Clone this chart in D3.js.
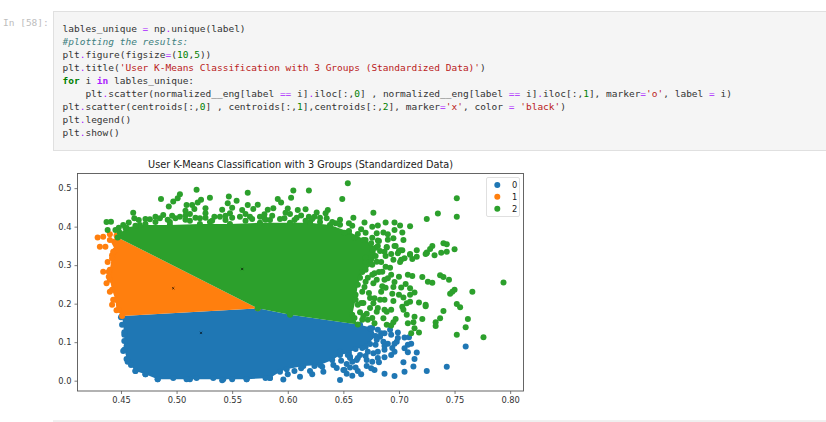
<!DOCTYPE html>
<html><head><meta charset="utf-8">
<script src="https://cdn.jsdelivr.net/npm/d3@7"></script>
<style>html,body{margin:0;padding:0;background:#fff;overflow:hidden}svg{display:block}</style>
</head><body><svg id="c" width="826" height="422"></svg>
<script>
const chartTitle = "User K-Means Classification with 3 Groups (Standardized Data)";
const groupLabels = ["0","1","2"];
const groupColors = ["#1f77b4","#ff7f0e","#2ca02c"];
const xTicks = [0.45,0.50,0.55,0.60,0.65,0.70,0.75,0.80];
const yTicks = [0.0,0.1,0.2,0.3,0.4,0.5];
const centroids = [[0.522,0.124],[0.497,0.240],[0.559,0.290]];

// dense interior of each group, as outlines in data units
const massBlue = [[.451,.168],[.573,.188],[.602,.171],[.665,.145],[.676,.137],[.679,.116],[.670,.088],[.661,.082],[.655,.072],[.647,.067],[.640,.054],[.629,.041],[.614,.038],[.599,.030],[.593,.023],[.584,.007],[.563,.004],[.542,.004],[.512,.004],[.483,.004],[.472,.017],[.463,.025],[.456,.049],[.453,.080],[.453,.119]];
const massOrange = [[.447,.372],[.573,.188],[.451,.168],[.446,.183],[.445,.210],[.442,.236],[.440,.262],[.440,.288],[.442,.326],[.445,.339],[.440,.365]];
const massGreen = [[.447,.372],[.454,.397],[.467,.404],[.494,.404],[.521,.407],[.548,.407],[.575,.410],[.602,.410],[.620,.410],[.638,.404],[.655,.387],[.670,.365],[.679,.345],[.679,.324],[.676,.301],[.667,.282],[.663,.249],[.661,.210],[.658,.171],[.663,.146],[.602,.171],[.573,.188]];

const pointsBlue = [[.760,.089],[.743,.036],[.725,.025],[.713,.037],[.705,.023],[.696,.012],[.687,.018],[.704,.048],[.714,.056],[.716,.073],[.711,.096],[.708,.093],[.705,.112],[.709,.113],[.699,.125],[.698,.101],[.696,.096],[.690,.096],[.705,.084],[.708,.074],[.696,.075],[.693,.067],[.687,.080],[.687,.061],[.682,.048],[.678,.028],[.675,.032],[.671,.054],[.671,.038],[.666,.017],[.663,.025],[.661,.034],[.656,.034],[.658,.013],[.651,.028],[.653,.018],[.647,.002],[.684,.123],[.687,.123],[.674,.136],[.683,.114],[.677,.071],[.681,.075],[.665,.067],[.656,.062],[.648,.052],[.641,.041],[.662,.054],[.596,.003],[.600,.017],[.611,.010],[.622,.017],[.632,.023],[.650,.028],[.654,.067],[.612,.032],[.679,.093],[.686,.101],[.693,.119],[.670,.064],
[.450,.165],[.451,.145],[.453,.126],[.453,.103],[.455,.090],[.452,.077],[.455,.056],[.459,.041],[.463,.025],[.472,.017],[.483,.004],[.497,.007],[.509,.004],[.518,.007],[.533,.007],[.541,.001],[.550,.004],[.563,.004],[.580,.007],[.584,.007],
[.647,.075],[.656,.059],[.667,.085],[.674,.095],[.680,.106],[.687,.090],[.681,.059],[.672,.075],[.663,.059],[.653,.043],[.644,.033],[.631,.036],[.620,.025],[.606,.025],[.658,.049],[.676,.049],[.694,.085],[.699,.111],[.692,.132],[.681,.132],[.624,.038]];

const pointsOrange = [[.429,.372],[.434,.374],[.440,.380],[.446,.377],[.431,.348],[.436,.348],[.443,.335],[.442,.318],[.438,.308],[.434,.283],[.439,.283],[.439,.270],[.437,.253],[.440,.231],[.443,.210],[.442,.197],[.448,.184]];

const pointsGreen = [[.518,.496],[.486,.472],[.503,.484],[.501,.474],[.497,.465],[.493,.452],[.530,.475],[.522,.470],[.519,.463],[.509,.456],[.514,.456],[.516,.446],[.526,.448],[.526,.435],[.508,.441],[.461,.436],[.547,.478],[.564,.488],[.554,.467],[.546,.461],[.550,.449],[.541,.444],[.564,.456],[.573,.457],[.569,.446],[.548,.435],[.534,.426],[.559,.443],[.488,.430],[.485,.422],[.476,.419],[.466,.417],[.462,.422],[.499,.422],[.503,.426],[.508,.429],[.517,.423],[.521,.422],[.539,.426],[.557,.426],[.568,.420],[.575,.426],[.437,.412],[.441,.413],[.438,.391],[.457,.411],[.452,.404],[.448,.397],[.445,.391],
[.654,.513],[.619,.494],[.605,.494],[.649,.472],[.603,.475],[.591,.472],[.594,.463],[.587,.448],[.582,.444],[.600,.447],[.598,.436],[.609,.443],[.616,.445],[.579,.432],[.579,.422],[.636,.443],[.634,.435],[.626,.437],[.624,.426],[.619,.426],[.612,.429],[.677,.436],[.659,.423],[.725,.420],[.647,.418],[.635,.422],[.643,.409],[.655,.409],[.669,.411],[.688,.411],[.696,.411],[.681,.403],[.701,.403],[.710,.401],[.676,.400],[.666,.393],[.655,.389],[.696,.391],[.703,.385],[.686,.385],[.690,.380],[.680,.383],[.695,.370],[.704,.365],[.681,.364],[.689,.347],[.683,.337],[.703,.339],[.700,.337],[.716,.339],[.725,.331],[.710,.329],[.693,.329],[.675,.357],[.668,.365],[.752,.474],[.752,.426],[.735,.434],
[.794,.255],[.766,.231],[.750,.341],[.743,.354],[.740,.357],[.743,.335],[.738,.332],[.732,.326],[.730,.350],[.728,.342],[.725,.333],[.724,.329],[.716,.322],[.712,.316],[.710,.327],[.701,.339],[.699,.331],[.705,.318],[.702,.314],[.695,.314],[.689,.346],[.688,.296],[.701,.308],[.737,.274],[.740,.269],[.745,.262],[.721,.269],[.726,.257],[.730,.254],[.708,.275],[.712,.272],[.700,.270],[.693,.275],[.690,.266],[.687,.262],[.696,.256],[.695,.243],[.685,.245],[.706,.251],[.702,.242],[.710,.240],[.750,.236],[.748,.231],[.746,.226],[.714,.229],[.710,.223],[.700,.223],[.704,.216],[.695,.207],[.687,.210],[.718,.203],[.752,.199],[.724,.197],[.678,.214],[.677,.201],[.677,.253],[.680,.262],[.678,.279],[.682,.363],
[.724,.193],[.740,.181],[.755,.191],[.762,.160],[.760,.139],[.752,.119],[.776,.113],[.737,.162],[.733,.152],[.733,.142],[.721,.160],[.714,.166],[.713,.152],[.708,.149],[.714,.136],[.718,.125],[.711,.123],[.703,.192],[.704,.184],[.707,.171],[.710,.205],[.707,.201],[.693,.184],[.697,.160],[.695,.152],[.693,.143],[.686,.162],[.678,.149],[.689,.145],[.680,.179],[.674,.215],[.668,.202],
[.670,.288],[.672,.267],[.669,.243],[.673,.228],[.666,.202],[.665,.178],[.671,.174],[.676,.163],[.667,.158],[.674,.189],[.684,.308],[.688,.324],[.682,.282],[.684,.231],[.688,.241],[.687,.184],[.670,.308],
[.472,.407],[.481,.412],[.494,.412],[.512,.415],[.530,.412],[.544,.417],[.562,.415],[.584,.417],[.597,.422],[.606,.417],[.620,.412],[.629,.412],[.638,.402],[.651,.384],[.660,.371],
[.472,.420],[.481,.426],[.492,.418],[.496,.428],[.508,.418],[.512,.433],[.526,.423],[.532,.415],[.544,.428],[.550,.423],[.562,.433],[.566,.426],[.580,.418],[.586,.428],[.593,.420],[.602,.433],[.608,.423],[.616,.415],[.622,.420],[.629,.423],[.640,.412],[.647,.405],[.658,.402],[.663,.381],[.670,.384],[.676,.371],[.681,.350],[.676,.340],[.687,.335],[.670,.319],[.680,.309],[.676,.275],[.665,.267],[.670,.257],[.661,.223],[.667,.231],[.663,.197],[.660,.163],[.668,.168],[.672,.158],[.683,.210],[.681,.189],[.689,.179],[.694,.226],[.685,.283],[.692,.293],[.697,.350],[.690,.366],[.696,.350],[.449,.384],[.455,.397],[.463,.402]];

const promptText = "In [58]:";
const codeLines = [
 [["lables_unique ","n"],["=","o"],[" np","n"],[".","o"],["unique(label)","n"]],
 [["#plotting the results:","c"]],
 [["plt","n"],[".","o"],["figure(figsize","n"],["=","o"],["(","n"],["10","m"],[",","n"],["5","m"],["))","n"]],
 [["plt","n"],[".","o"],["title(","n"],["'User K-Means Classification with 3 Groups (Standardized Data)'","s"],[")","n"]],
 [["for","k"],[" i ","n"],["in","w"],[" lables_unique:","n"]],
 [["    plt","n"],[".","o"],["scatter(normalized__eng[label ","n"],["==","o"],[" i]","n"],[".","o"],["iloc[:,","n"],["0","m"],["] , normalized__eng[label ","n"],["==","o"],[" i]","n"],[".","o"],["iloc[:,","n"],["1","m"],["], marker","n"],["=","o"],["'o'","s"],[", label ","n"],["=","o"],[" i)","n"]],
 [["plt","n"],[".","o"],["scatter(centroids[:,","n"],["0","m"],["] , centroids[:,","n"],["1","m"],["],centroids[:,","n"],["2","m"],["], marker","n"],["=","o"],["'x'","s"],[", color ","n"],["=","o"],[" ","n"],["'black'","s"],[")","n"]],
 [["plt","n"],[".","o"],["legend()","n"]],
 [["plt","n"],[".","o"],["show()","n"]]
];

const svg = d3.select("#c");
const codeStyle = {n:"#333333",o:"#AA22FF",c:"#408080",s:"#BA2121",m:"#008000",k:"#008000",w:"#AA22FF"};

// notebook cell
svg.append("rect").attr("x",53.5).attr("y",11.5).attr("width",790).attr("height",139).attr("fill","#f5f5f5").attr("stroke","#e0e0e0");
svg.append("text").attr("x",3).attr("y",26).attr("font-family","'DejaVu Sans Mono'").attr("font-size",9.5).attr("fill","#bdbdbd").text(promptText);
const lines = svg.append("g").attr("font-family","'DejaVu Sans Mono'").attr("font-size",9.5).style("white-space","pre");
codeLines.forEach((segs,i)=>{
  const t = lines.append("text").attr("x",62.5).attr("y",32+i*13).attr("xml:space","preserve");
  segs.forEach(([txt,k])=>{
    t.append("tspan").text(txt).attr("fill",codeStyle[k])
      .attr("font-weight",(k==="k"||k==="w")?"bold":null)
      .attr("font-style",k==="c"?"italic":null);
  });
});
svg.append("line").attr("x1",53).attr("x2",826).attr("y1",421).attr("y2",421).attr("stroke","#e0e0e0");

// plot
const L=77.5,R=523.5,T=173.5,B=391;
const x = d3.scaleLinear().domain([.4109,.812]).range([L,R]);
const y = d3.scaleLinear().domain([-.0268,.538]).range([B,T]);
const poly = d3.line().x(d=>x(d[0])).y(d=>y(d[1])).curve(d3.curveLinearClosed);
const groups = [[massBlue,pointsBlue],[massOrange,pointsOrange],[massGreen,pointsGreen]];
const plot = svg.append("g");
groups.forEach(([mass,pts],i)=>{
  const g = plot.append("g").attr("fill",groupColors[i]);
  g.append("path").attr("d",poly(mass));
  g.selectAll("circle").data(mass.concat(pts)).join("circle")
    .attr("cx",d=>x(d[0])).attr("cy",d=>y(d[1])).attr("r",3);
});
plot.append("g").selectAll("path").data(centroids).join("path")
  .attr("d",d3.symbol(d3.symbolX,4)).attr("transform",d=>`translate(${x(d[0])},${y(d[1])})`)
  .attr("stroke","#000").attr("stroke-width",.6).attr("fill","#000");

const ax = svg.append("g").attr("transform",`translate(0,${B})`).call(d3.axisBottom(x).tickValues(xTicks).tickFormat(d3.format(".2f")).tickSize(3).tickPadding(3));
const ay = svg.append("g").attr("transform",`translate(${L},0)`).call(d3.axisLeft(y).tickValues(yTicks).tickFormat(d3.format(".1f")).tickSize(3).tickPadding(3));
[ax,ay].forEach(a=>{
  a.attr("font-family","'DejaVu Sans'").attr("font-size",8.3);
  a.selectAll("text").attr("fill","#333");
  a.selectAll("line").attr("stroke","#444").attr("stroke-width",.7);
  a.select(".domain").remove();
});
svg.append("rect").attr("x",L).attr("y",T).attr("width",R-L).attr("height",B-T).attr("fill","none").attr("stroke","#555").attr("stroke-width",.9);
svg.append("text").attr("x",(L+R)/2).attr("y",168).attr("text-anchor","middle").attr("font-family","'DejaVu Sans'").attr("font-size",9.72).attr("fill","#222").text(chartTitle);

// legend
const lg = svg.append("g");
lg.append("rect").attr("x",486.5).attr("y",177.5).attr("width",33).attr("height",39).attr("rx",1.5).attr("fill","#fff").attr("fill-opacity",.8).attr("stroke","#d8d8d8").attr("stroke-width",.8);
const ly = d3.scalePoint().domain(groupLabels).range([185,208.7]);
groupLabels.forEach((lab,i)=>{
  lg.append("circle").attr("cx",497.3).attr("cy",ly(lab)).attr("r",3).attr("fill",groupColors[i]);
  lg.append("text").attr("x",512).attr("y",ly(lab)+3).attr("font-family","'DejaVu Sans'").attr("font-size",8.3).attr("fill","#222").text(lab);
});
</script></body></html>
